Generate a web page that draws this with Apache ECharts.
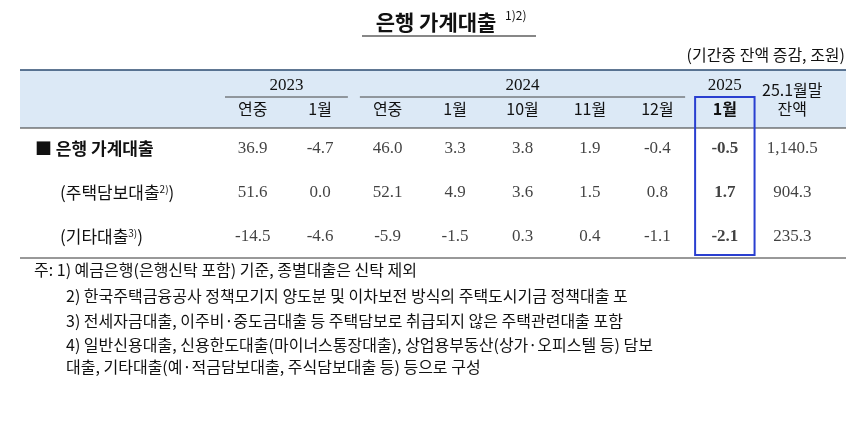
<!DOCTYPE html>
<html><head><meta charset="utf-8">
<script src="https://cdn.jsdelivr.net/npm/echarts@6/dist/echarts.min.js"></script>
<style>html,body{margin:0;background:#fff}#c{width:860px;height:428px}</style>
</head><body><div id="c"></div>
<script>
var columns = ['연중', '1월', '연중', '1월', '10월', '11월', '12월', '1월', '25.1월말\n잔액'];
var years = [['2023', 0, 1], ['2024', 2, 6], ['2025', 7, 7]];
var rows = ['■ 은행 가계대출', '(주택담보대출2))', '(기타대출3))'];
var total = [36.9, -4.7, 46.0, 3.3, 3.8, 1.9, -0.4, -0.5, '1,140.5'];
var mortgage = [51.6, 0.0, 52.1, 4.9, 3.6, 1.5, 0.8, 1.7, 904.3];
var other = [-14.5, -4.6, -5.9, -1.5, 0.3, 0.4, -1.1, -2.1, 235.3];
var notes = [
  '주: 1) 예금은행(은행신탁 포함) 기준, 종별대출은 신탁 제외',
  '2) 한국주택금융공사 정책모기지 양도분 및 이차보전 방식의 주택도시기금 정책대출 포',
  '3) 전세자금대출, 이주비·중도금대출 등 주택담보로 취급되지 않은 주택관련대출 포함',
  '4) 일반신용대출, 신용한도대출(마이너스통장대출), 상업용부동산(상가·오피스텔 등) 담보',
  '대출, 기타대출(예·적금담보대출, 주식담보대출 등) 등으로 구성'
];

var KR = '"Noto Sans CJK KR"';
var NUM = '"Liberation Serif", "Noto Sans CJK KR"';
var chart = echarts.init(document.getElementById('c'));

var data = [];
[total, mortgage, other].forEach(function (arr, r) {
  arr.forEach(function (v, c) {
    var s = typeof v === 'number' ? v.toFixed(1) : v;
    data.push([c, r, s]);
  });
});

chart.setOption({
  animation: false,
  grid: { left: 219, right: 34, top: 127, height: 132 },
  xAxis: {
    type: 'category', data: columns, position: 'top',
    axisLine: { show: false }, axisTick: { show: false },
    axisLabel: {
      interval: 0, margin: 9, fontFamily: KR, fontSize: 16, color: '#111', lineHeight: 19,
      formatter: function (v, i) { return i === 7 ? '{b|' + v + '}' : v; },
      rich: { b: { fontWeight: 'bold', fontFamily: KR, fontSize: 16 } }
    }
  },
  yAxis: {
    type: 'category', data: rows, inverse: true,
    axisLine: { show: false }, axisTick: { show: false },
    axisLabel: {
      interval: 0, align: 'left', margin: 184, fontFamily: KR, fontSize: 17, color: '#111',
      formatter: function (v, i) {
        if (i === 0) return '{b|' + v + '}';
        var m = v.match(/^(.*?)(\d\))\)$/);
        return '{i|' + m[1] + '}{s|' + m[2] + '}{t|)}';
      },
      rich: {
        b: { fontWeight: 'bold', fontFamily: KR, fontSize: 17 },
        i: { fontFamily: KR, fontSize: 17, padding: [0, 0, 0, 25] },
        t: { fontFamily: KR, fontSize: 17 },
        s: { fontFamily: KR, fontSize: 10, verticalAlign: 'top', padding: [0, 0, 8, 0] }
      }
    }
  },
  series: [{
    type: 'scatter', data: data, symbolSize: 1,
    itemStyle: { color: 'rgba(0,0,0,0)' },
    label: {
      show: true, position: 'inside', fontFamily: NUM, fontSize: 17, color: '#111',
      formatter: function (p) {
        return p.value[0] === 7 ? '{b|' + p.value[2] + '}' : p.value[2];
      },
      rich: { b: { fontWeight: 'bold', fontFamily: NUM, fontSize: 17 } }
    }
  }]
});

function px(c, r) { return chart.convertToPixel({ gridIndex: 0 }, [c, r]); }
var band = px(1, 0)[0] - px(0, 0)[0];
var g = [];
g.push({ type: 'rect', z: -10, shape: { x: 20, y: 70, width: 826, height: 58 }, style: { fill: '#dce9f6' } });
g.push({ type: 'line', shape: { x1: 20, y1: 70, x2: 846, y2: 70 }, style: { stroke: '#2b4a6f', lineWidth: 1.5 } });
g.push({ type: 'line', shape: { x1: 20, y1: 128, x2: 846, y2: 128 }, style: { stroke: '#333', lineWidth: 1 } });
g.push({ type: 'line', shape: { x1: 20, y1: 258, x2: 846, y2: 258 }, style: { stroke: '#333', lineWidth: 1 } });
years.forEach(function (y) {
  var a = px(y[1], 0)[0] - band / 2 + 6, b = px(y[2], 0)[0] + band / 2 - 6;
  g.push({ type: 'text', style: { x: (a + b) / 2, y: 86, text: y[0], align: 'center', verticalAlign: 'middle', font: '17px ' + NUM, fill: '#111' } });
  g.push({ type: 'line', shape: { x1: a, y1: 97, x2: b, y2: 97 }, style: { stroke: '#444', lineWidth: 1 } });
});
var bx = px(7, 0)[0];
g.push({ type: 'rect', shape: { x: bx - band / 2 + 4, y: 97, width: band - 8, height: 158 }, style: { fill: 'none', stroke: '#2a3fd0', lineWidth: 2 } });
g.push({ type: 'text', style: { x: 436, y: 22, text: '은행 가계대출', align: 'center', verticalAlign: 'middle', font: 'bold 21px ' + KR, fill: '#111' } });
g.push({ type: 'line', shape: { x1: 362, y1: 36, x2: 536, y2: 36 }, style: { stroke: '#111', lineWidth: 1.2 } });
g.push({ type: 'text', style: { x: 505, y: 15, text: '1)2)', align: 'left', verticalAlign: 'middle', font: '12px ' + KR, fill: '#111' } });
g.push({ type: 'text', style: { x: 845, y: 55, text: '(기간중 잔액 증감, 조원)', align: 'right', verticalAlign: 'middle', font: '16px ' + KR, fill: '#111' } });
var noteY = [270, 296, 321, 345, 367];
notes.forEach(function (n, i) {
  g.push({ type: 'text', style: { x: i === 0 ? 34 : 66, y: noteY[i], text: n, align: 'left', verticalAlign: 'middle', font: '16px ' + KR, fill: '#111' } });
});
g.push({ type: 'text', style: { x: 66, y: 389, text: '', font: '16px ' + KR } });
chart.setOption({ graphic: g });
</script></body></html>
